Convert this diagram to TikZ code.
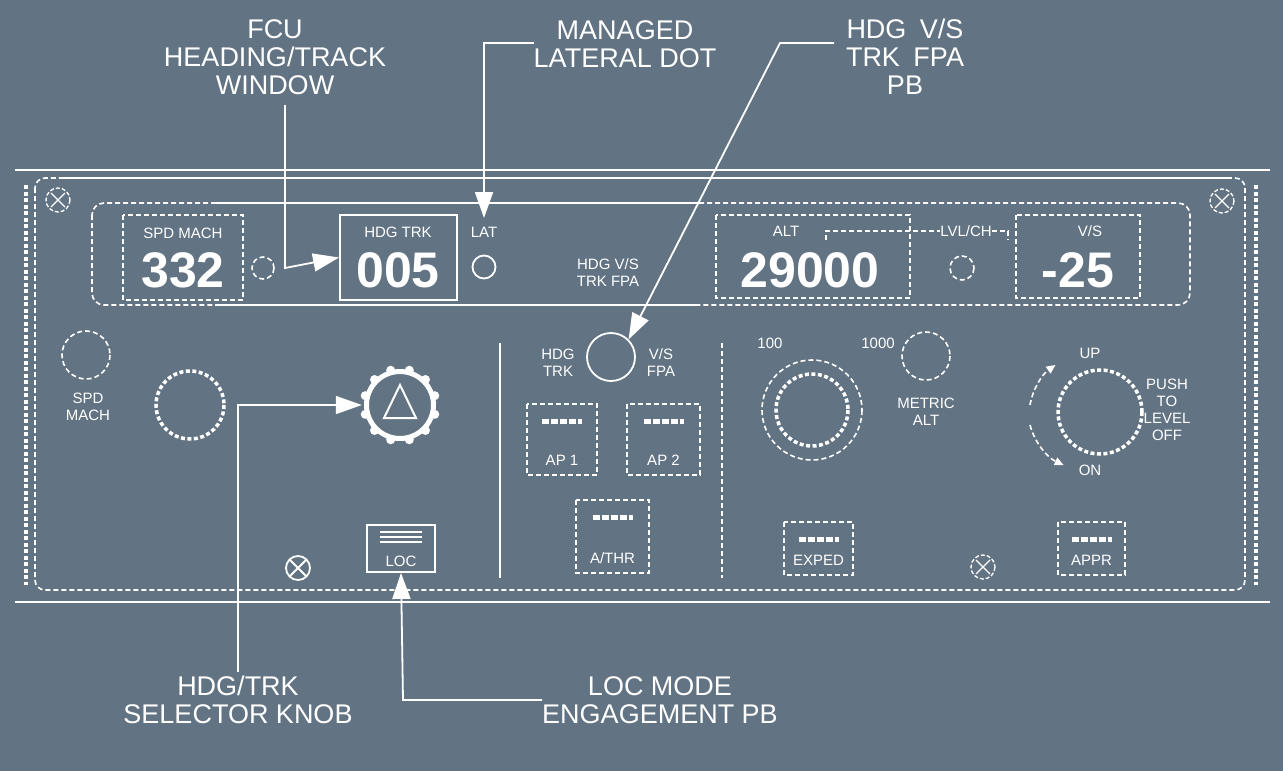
\documentclass[tikz,border=0pt]{standalone}
\usepackage{fontspec}
\setmainfont{Liberation Sans}
\usetikzlibrary{arrows.meta}
\definecolor{bg}{RGB}{98,115,131}
\begin{document}
\begin{tikzpicture}[x=1pt,y=-1pt,
  every node/.style={text=white,font=\fontsize{15}{17}\selectfont,align=center,inner sep=0},
  call/.style={font=\fontsize{27}{28}\selectfont},
  w/.style={draw=white,line width=1.8pt},
  dsh/.style={draw=white,line width=1.6pt,dash pattern=on 5pt off 3pt},
  stripe/.style={draw=white,line width=3.5pt,dash pattern=on 4pt off 2.5pt},
  bar/.style={draw=white,line width=5pt,dash pattern=on 7pt off 2pt},
  dig/.style={font=\fontsize{50}{50}\selectfont\bfseries},
  arr/.style={draw=white,line width=1.8pt,-{Triangle[length=26pt,width=18pt]}}]
\fill[bg] (0,0) rectangle (1283,771);
\useasboundingbox (0,0) rectangle (1283,771);
% frame
\draw[w] (15,170) -- (1270,170); \draw[w] (60,178) -- (1230,178);
\draw[w] (15,602) -- (1270,602);
\draw[dsh,rounded corners=10pt] (35,178) rectangle (1245,590);
\draw[stripe] (26,185) -- (26,585); \draw[stripe] (1256,185) -- (1256,585);
% display window
\draw[dsh,rounded corners=12pt] (92,203) rectangle (1190,305);
\draw[w] (215,203) -- (700,203); \draw[w] (215,305) -- (700,305);
% displays
\draw[dsh] (123,215) rectangle (243,300);
\node (spdt) at (183,233) {SPD MACH};
\node[dig] (spdd) at (183,270) {332};
\draw[dsh] (263,268) circle (11);
\node[draw=white,line width=1.8pt,minimum width=117pt,minimum height=85pt] (hdgbox) at (398.5,257.5) {};
\node (hdgt) at (398,232) {HDG TRK};
\node[dig] (hdgd) at (398,270) {005};
\node (latt) at (484,232) {LAT};
\node[draw=white,line width=1.8pt,circle,minimum size=23pt] (lat) at (484,267) {};
\node (hvs) at (608,273) {HDG V/S\\TRK FPA};
\draw[dsh] (716,215) rectangle (910,298);
\node (altt) at (786,231) {ALT};
\node[dig] (altd) at (810,270) {29000};
\node (lvl) at (966,231) {LVL/CH};
\draw[dsh] (826,240) -- (826,231) -- (lvl.west); \draw[dsh] (lvl.east) -- (1008,231) -- (1008,240);
\draw[dsh] (962,268) circle (12);
\draw[dsh] (1016,215) rectangle (1140,298);
\node (vst) at (1090,231) {V/S};
\node[dig] (vsd) at (1078,270) {-25};
% screws
\foreach \x/\y in {58/200,1222/201,983/567}{
  \draw[dsh,line width=1.3pt,dash pattern=on 4pt off 2pt] (\x,\y) circle (12);
  \draw[w,line width=1.3pt] (\x-7,\y-7) -- (\x+7,\y+7) (\x-7,\y+7) -- (\x+7,\y-7);}
\draw[w] (298,568) circle (12);
\draw[w] (290,560) -- (306,576) (290,576) -- (306,560);
% left controls
\draw[dsh] (86,355) circle (24);
\node (spdm) at (88,407) {SPD\\MACH};
\draw[stripe] (190,405) circle (34);
\node[circle,minimum size=76pt] (knob) at (400,405) {};
\fill[white] (400,405) circle (36);
\foreach \a in {15,45,...,345} \fill[white] (400,405) ++(\a:36) circle (4.5);
\fill[bg] (400,405) circle (32);
\draw[w,line width=2pt] (400,405) circle (32);
\draw[w,line width=2pt] (400,385) -- (416,418) -- (384,418) -- cycle;
\node[draw=white,line width=1.8pt,minimum width=68pt,minimum height=47pt] (loc) at (401,548.5) {};
\draw[w,line width=1.4pt] (380,532) -- (422,532) (380,537) -- (422,537) (380,542) -- (422,542);
\node at (401,561) {LOC};
\draw[w] (500,343) -- (500,578);
% middle
\node[draw=white,line width=1.8pt,circle,minimum size=48pt] (hdgpb) at (611,357) {};
\node at (558,363) {HDG\\TRK};
\node at (661,363) {V/S\\FPA};
\foreach \cx/\cy/\bw/\bh/\bt in {562/439.5/70/71/{AP 1},663.5/439.5/73/71/{AP 2},612.5/536.5/73/73/{A/THR},818.5/548.5/69/53/{EXPED},1091.5/548.5/67/53/{APPR}}{
  \draw[dsh] (\cx-\bw/2,\cy-\bh/2) rectangle (\cx+\bw/2,\cy+\bh/2);
  \draw[bar] (\cx-20,\cy-\bh/2+17) -- (\cx+20,\cy-\bh/2+17);
  \node at (\cx,\cy+\bh/2-15) {\bt};}
\draw[dsh] (722,343) -- (722,578);
% altitude
\draw[dsh] (812,410) circle (50);
\draw[stripe] (812,410) circle (36);
\node at (770,343) {100};
\node at (878,343) {1000};
\draw[dsh] (926,356) circle (24);
\node at (926,412) {METRIC\\ALT};
% V/S knob
\draw[stripe] (1100,412) circle (42);
\draw[dsh,-{Triangle[length=9pt,width=8pt]}] (1030,405) arc (190:235:62);
\draw[dsh,-{Triangle[length=9pt,width=8pt]}] (1030,425) arc (165:115:62);
\node at (1090,353) {UP};
\node at (1090,470) {ON};
\node at (1167,410) {PUSH\\TO\\LEVEL\\OFF};
% callouts
\node[call] (c1) at (275,57) {FCU\\HEADING/TRACK\\WINDOW};
\coordinate (c1a) at (285,268);
\draw[arr] (285,105) -- (c1a) -- (hdgbox.west);
\node[call] (c2) at (625,44) {MANAGED\\LATERAL DOT};
\coordinate (c2a) at (484,43);
\draw[arr] (c2.west |- 0,43) -- (c2a) -- (484,218);
\node[call] (c3) at (905,57) {HDG\enspace V/S\\TRK\enspace FPA\\PB};
\coordinate (c3a) at (780,43);
\draw[arr] (834,43) -- (c3a) -- (hdgpb.north east);
\node[call] (c4) at (238,700) {HDG/TRK\\SELECTOR KNOB};
\coordinate (c4a) at (238,405);
\draw[arr] (238,672) -- (c4a) -- (knob.west);
\node[call] (c5) at (660,700) {LOC MODE\\ENGAGEMENT PB};
\coordinate (c5a) at (403,700);
\draw[arr] (c5.west) -- (c5a) -- (loc.south);
\end{tikzpicture}
\end{document}
